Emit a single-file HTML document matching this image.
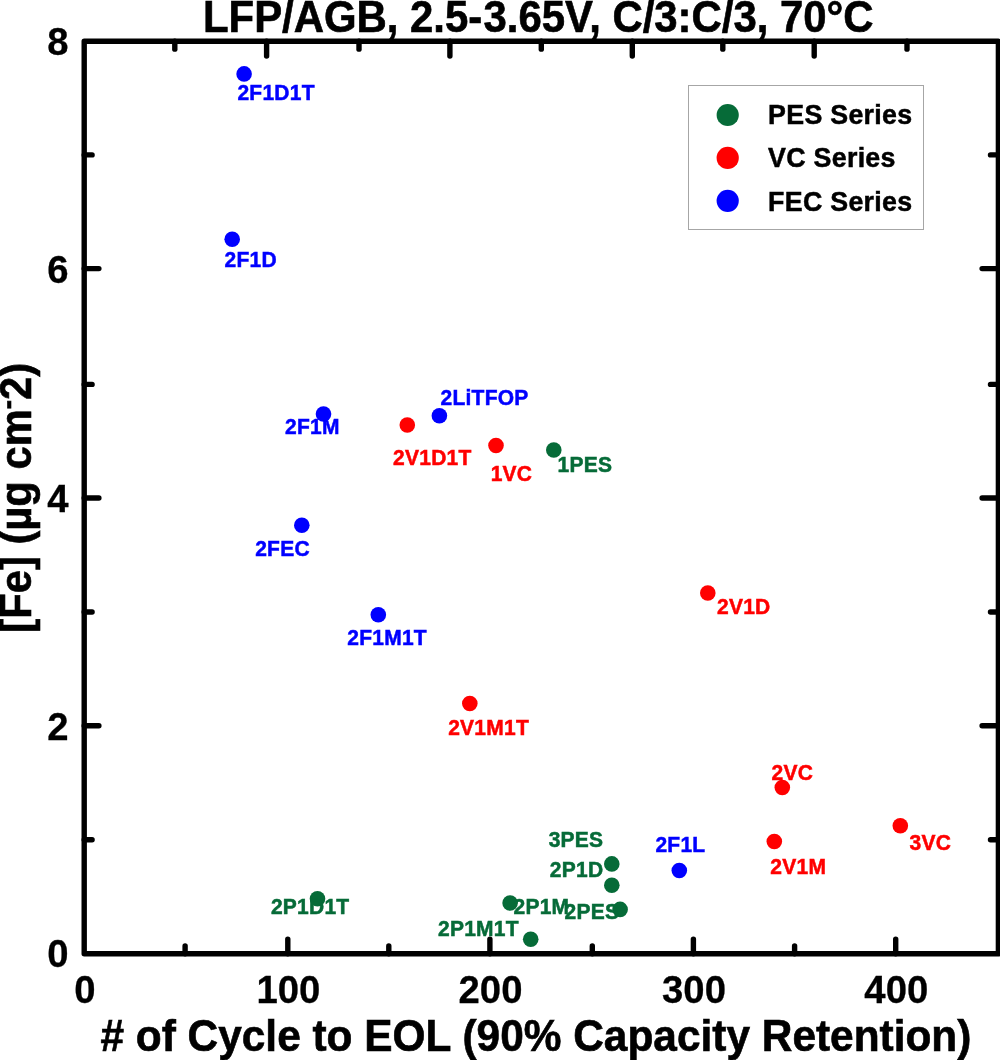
<!DOCTYPE html>
<html lang="en"><head><meta charset="utf-8"><title>LFP/AGB scatter</title>
<style>html,body{margin:0;padding:0;background:#fff}body{width:1000px;height:1060px;overflow:hidden}svg{display:block}text{font-family:"Liberation Sans",Arial,Helvetica,sans-serif;font-weight:bold}</style></head><body>
<svg width="1000" height="1060" viewBox="0 0 1000 1060">
<rect x="0" y="0" width="1000" height="1060" fill="#fff"/>
<text transform="translate(203 31.7) scale(1 1.055)" font-size="42" fill="#000" stroke="#000" stroke-width="0.6" textLength="670.6" lengthAdjust="spacingAndGlyphs">LFP/AGB, 2.5-<tspan dx="1.3">3.65V, C/3:C/3, 70°C</tspan></text>
<g stroke="#000" stroke-width="5.4" stroke-linecap="round" fill="none">
<rect x="84.2" y="41.25" width="914.1999999999999" height="912.55" stroke-linejoin="round"/>
<path d="M84.2 154.9h7.9M998.4 154.9h-7.9"/>
<path d="M84.2 268.6h14.7M998.4 268.6h-16.3"/>
<path d="M84.2 384.4h7.9M998.4 384.4h-7.9"/>
<path d="M84.2 498.0h14.7M998.4 498.0h-16.3"/>
<path d="M84.2 612.0h7.9M998.4 612.0h-7.9"/>
<path d="M84.2 725.8h14.7M998.4 725.8h-16.3"/>
<path d="M84.2 839.7h7.9M998.4 839.7h-7.9"/>
<path d="M185.1 953.8v-7.9"/>
<path d="M287.8 953.8v-14.7"/>
<path d="M388.8 953.8v-7.9"/>
<path d="M489.9 953.8v-14.7"/>
<path d="M592.3 953.8v-7.9"/>
<path d="M693.4 953.8v-14.7"/>
<path d="M794.6 953.8v-7.9"/>
<path d="M895.7 953.8v-14.7"/>
<path d="M174.8 41.25v7.9"/>
<path d="M266.6 41.25v14.7"/>
<path d="M359.0 41.25v7.9"/>
<path d="M449.9 41.25v14.7"/>
<path d="M541.3 41.25v7.9"/>
<path d="M632.3 41.25v14.7"/>
<path d="M722.8 41.25v7.9"/>
<path d="M814.2 41.25v14.7"/>
<path d="M907.0 41.25v7.9"/>
</g>
<g font-size="38.3" fill="#000" stroke="#000" stroke-width="0.3">
<text transform="translate(68.6 55.4) scale(1 1.035)" text-anchor="end">8</text>
<text transform="translate(68.6 282.7) scale(1 1.035)" text-anchor="end">6</text>
<text transform="translate(68.6 512.1) scale(1 1.035)" text-anchor="end">4</text>
<text transform="translate(68.6 739.9) scale(1 1.035)" text-anchor="end">2</text>
<text transform="translate(68.6 967.2) scale(1 1.035)" text-anchor="end">0</text>
<text transform="translate(84.8 1003.3) scale(1 1.035)" text-anchor="middle">0</text>
<text transform="translate(288.4 1003.3) scale(1 1.035)" text-anchor="middle">100</text>
<text transform="translate(490.5 1003.3) scale(1 1.035)" text-anchor="middle">200</text>
<text transform="translate(694.0 1003.3) scale(1 1.035)" text-anchor="middle">300</text>
<text transform="translate(896.3 1003.3) scale(1 1.035)" text-anchor="middle">400</text>
</g>
<text transform="translate(100.4 1050.8) scale(1 1.055)" font-size="42" fill="#000" stroke="#000" stroke-width="0.6" textLength="871" lengthAdjust="spacingAndGlyphs"># of Cycle to EOL (90% Capacity Retention)</text>
<text transform="translate(31.0 632.7) rotate(-90) scale(1 1.05)" font-size="41.75" fill="#000" stroke="#000" stroke-width="0.6">[Fe] (µg cm<tspan font-size="27.7" dy="-13.4">-</tspan><tspan dy="13.4">2)</tspan></text>
<rect x="688.5" y="85.5" width="235" height="144" fill="#fff" stroke="#a6a6a6" stroke-width="1"/>
<circle cx="727.7" cy="115.0" r="11.1" fill="#066b38"/>
<text transform="translate(768.1 124.3) scale(1 1.025)" font-size="26.8" fill="#000" stroke="#000" stroke-width="0.5" letter-spacing="0.28">PES Series</text>
<circle cx="727.7" cy="157.9" r="11.1" fill="#ff0000"/>
<text transform="translate(768.1 167.2) scale(1 1.025)" font-size="26.8" fill="#000" stroke="#000" stroke-width="0.5" letter-spacing="0.28">VC Series</text>
<circle cx="727.7" cy="200.8" r="11.1" fill="#0000ff"/>
<text transform="translate(768.1 211.0) scale(1 1.025)" font-size="26.8" fill="#000" stroke="#000" stroke-width="0.5" letter-spacing="0.28">FEC Series</text>
<circle cx="244.1" cy="73.9" r="7.8" fill="#0000ff"/>
<circle cx="232.2" cy="239.2" r="7.8" fill="#0000ff"/>
<circle cx="323.5" cy="414.0" r="7.8" fill="#0000ff"/>
<circle cx="439.4" cy="415.8" r="7.8" fill="#0000ff"/>
<circle cx="301.8" cy="525.3" r="7.8" fill="#0000ff"/>
<circle cx="378.3" cy="614.8" r="7.8" fill="#0000ff"/>
<circle cx="679.3" cy="870.5" r="7.8" fill="#0000ff"/>
<circle cx="407.3" cy="425.0" r="7.8" fill="#ff0000"/>
<circle cx="496.0" cy="445.5" r="7.8" fill="#ff0000"/>
<circle cx="707.8" cy="593.0" r="7.8" fill="#ff0000"/>
<circle cx="469.8" cy="703.5" r="7.8" fill="#ff0000"/>
<circle cx="782.3" cy="787.5" r="7.8" fill="#ff0000"/>
<circle cx="774.3" cy="841.5" r="7.8" fill="#ff0000"/>
<circle cx="900.3" cy="825.8" r="7.8" fill="#ff0000"/>
<circle cx="553.8" cy="450.0" r="7.8" fill="#066b38"/>
<circle cx="611.8" cy="863.9" r="7.8" fill="#066b38"/>
<circle cx="611.8" cy="885.2" r="7.8" fill="#066b38"/>
<circle cx="620.1" cy="909.4" r="7.8" fill="#066b38"/>
<circle cx="510.1" cy="903.0" r="7.8" fill="#066b38"/>
<circle cx="530.7" cy="939.2" r="7.8" fill="#066b38"/>
<circle cx="317.5" cy="898.8" r="7.8" fill="#066b38"/>
<text transform="translate(237.4 99.5) scale(1 1.05)" font-size="21.0" fill="#0000ff" stroke="#0000ff" stroke-width="0.5" letter-spacing="0.25">2F1D1T</text>
<text transform="translate(224.6 266.9) scale(1 1.05)" font-size="21.0" fill="#0000ff" stroke="#0000ff" stroke-width="0.5" letter-spacing="0.25">2F1D</text>
<text transform="translate(285.0 433.5) scale(1 1.05)" font-size="21.0" fill="#0000ff" stroke="#0000ff" stroke-width="0.5" letter-spacing="0.25">2F1M</text>
<text transform="translate(440.5 405.1) scale(1 1.05)" font-size="21.0" fill="#0000ff" stroke="#0000ff" stroke-width="0.5" letter-spacing="0.25">2LiTFOP</text>
<text transform="translate(255.2 555.5) scale(1 1.05)" font-size="21.0" fill="#0000ff" stroke="#0000ff" stroke-width="0.5" letter-spacing="0.25">2FEC</text>
<text transform="translate(347.3 644.9) scale(1 1.05)" font-size="21.0" fill="#0000ff" stroke="#0000ff" stroke-width="0.5" letter-spacing="0.25">2F1M1T</text>
<text transform="translate(655.4 851.9) scale(1 1.05)" font-size="21.0" fill="#0000ff" stroke="#0000ff" stroke-width="0.5" letter-spacing="0.25">2F1L</text>
<text transform="translate(393.1 464.9) scale(1 1.05)" font-size="21.0" fill="#ff0000" stroke="#ff0000" stroke-width="0.5" letter-spacing="0.25">2V1D1T</text>
<text transform="translate(490.7 480.5) scale(1 1.05)" font-size="21.0" fill="#ff0000" stroke="#ff0000" stroke-width="0.5" letter-spacing="0.25">1VC</text>
<text transform="translate(717.0 613.5) scale(1 1.05)" font-size="21.0" fill="#ff0000" stroke="#ff0000" stroke-width="0.5" letter-spacing="0.25">2V1D</text>
<text transform="translate(448.2 734.9) scale(1 1.05)" font-size="21.0" fill="#ff0000" stroke="#ff0000" stroke-width="0.5" letter-spacing="0.25">2V1M1T</text>
<text transform="translate(771.6 779.9) scale(1 1.05)" font-size="21.0" fill="#ff0000" stroke="#ff0000" stroke-width="0.5" letter-spacing="0.25">2VC</text>
<text transform="translate(770.3 873.5) scale(1 1.05)" font-size="21.0" fill="#ff0000" stroke="#ff0000" stroke-width="0.5" letter-spacing="0.25">2V1M</text>
<text transform="translate(909.5 849.5) scale(1 1.05)" font-size="21.0" fill="#ff0000" stroke="#ff0000" stroke-width="0.5" letter-spacing="0.25">3VC</text>
<text transform="translate(557.6 471.9) scale(1 1.05)" font-size="21.0" fill="#066b38" stroke="#066b38" stroke-width="0.5" letter-spacing="0.25">1PES</text>
<text transform="translate(548.7 846.5) scale(1 1.05)" font-size="21.0" fill="#066b38" stroke="#066b38" stroke-width="0.5" letter-spacing="0.25">3PES</text>
<text transform="translate(549.8 876.9) scale(1 1.05)" font-size="21.0" fill="#066b38" stroke="#066b38" stroke-width="0.5" letter-spacing="0.25">2P1D</text>
<text transform="translate(564.5 918.9) scale(1 1.05)" font-size="21.0" fill="#066b38" stroke="#066b38" stroke-width="0.5" letter-spacing="0.25">2PES</text>
<text transform="translate(513.5 913.5) scale(1 1.05)" font-size="21.0" fill="#066b38" stroke="#066b38" stroke-width="0.5" letter-spacing="0.25">2P1M</text>
<text transform="translate(438.0 935.9) scale(1 1.05)" font-size="21.0" fill="#066b38" stroke="#066b38" stroke-width="0.5" letter-spacing="0.25">2P1M1T</text>
<text transform="translate(270.9 913.5) scale(1 1.05)" font-size="21.0" fill="#066b38" stroke="#066b38" stroke-width="0.5" letter-spacing="0.25">2P1D1T</text>
</svg></body></html>
